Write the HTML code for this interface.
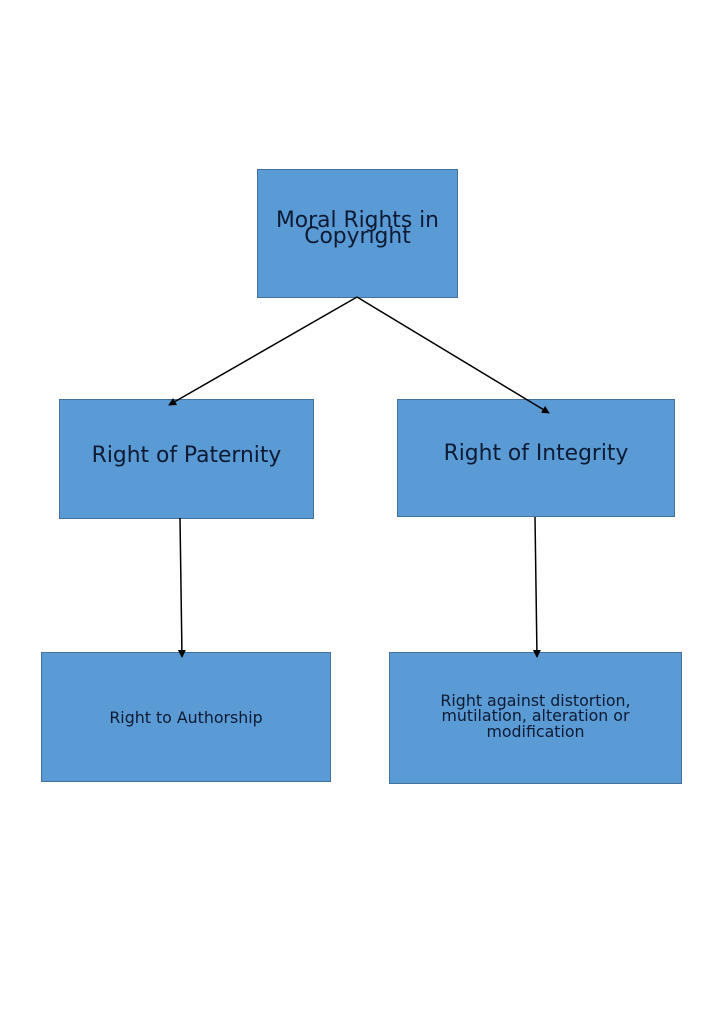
<!DOCTYPE html>
<html><head><style>
body{margin:0;width:724px;height:1024px;background:#fff;position:relative;overflow:hidden;font-family:"DejaVu Sans","Liberation Sans",sans-serif;color:#0d1a33}
.b{position:absolute;background:#5b9bd5;border:1px solid #41719c;box-sizing:border-box;display:flex;align-items:center;justify-content:center;text-align:center;white-space:nowrap}
</style></head><body>
<div class="b" style="left:257px;top:169px;width:201px;height:129px;font-size:21.8px;line-height:16px;padding-bottom:10px">Moral Rights in<br>Copyright</div>
<div class="b" style="left:59px;top:399px;width:255px;height:120px;font-size:21.8px;padding-bottom:8px">Right of Paternity</div>
<div class="b" style="left:397px;top:399px;width:278px;height:118px;font-size:21.8px;padding-bottom:10px">Right of Integrity</div>
<div class="b" style="left:41px;top:652px;width:290px;height:130px;font-size:15.8px">Right to Authorship</div>
<div class="b" style="left:389px;top:652px;width:293px;height:132px;font-size:15.8px;line-height:15.5px;padding-bottom:4px">Right against distortion,<br>mutilation, alteration or<br>modification</div>
<svg width="724" height="1024" style="position:absolute;left:0;top:0">
<defs><marker id="a" markerWidth="8" markerHeight="8" refX="7" refY="4" orient="auto" markerUnits="userSpaceOnUse"><path d="M0,0L8,4L0,8z" fill="#000"/></marker></defs>
<g stroke="#000" stroke-width="1.5" fill="none">
<line x1="357" y1="297" x2="169" y2="405" marker-end="url(#a)"/>
<line x1="357" y1="297" x2="549" y2="413" marker-end="url(#a)"/>
<line x1="180" y1="518" x2="182" y2="657" marker-end="url(#a)"/>
<line x1="535" y1="517" x2="537" y2="657" marker-end="url(#a)"/>
</g></svg>
</body></html>
